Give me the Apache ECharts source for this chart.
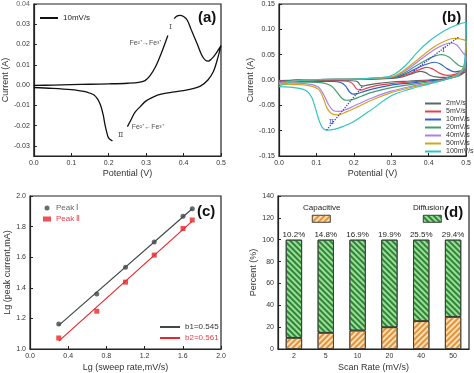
<!DOCTYPE html>
<html><head><meta charset="utf-8">
<script src="https://cdn.jsdelivr.net/npm/echarts@6/dist/echarts.min.js"></script>
<style>html,body{margin:0;padding:0;background:#fff}#c{width:474px;height:373px}</style>
</head><body><div id="c"></div>
<script>
// ---------- Panel (a): CV at 10 mV/s (current in A), split where annotations sit ----------
const cvA_seg1 = [[0.0,-0.0002],[0.05,0.0],[0.1,0.0002],[0.15,0.0004],[0.2,0.0006],[0.25,0.0009],[0.28,0.0013],[0.297,0.0022],[0.31,0.0045],[0.325,0.009],[0.34,0.0155],[0.358,0.0245]];
const cvA_seg2 = [[0.375,0.0328],[0.382,0.034],[0.39,0.0344],[0.4,0.0338],[0.41,0.032],[0.42,0.0275],[0.436,0.0205],[0.448,0.015],[0.458,0.0123],[0.466,0.0118],[0.474,0.0128],[0.485,0.0152],[0.5,0.0195],[0.49,0.0125],[0.48,0.0068],[0.465,0.0025],[0.445,-0.0005],[0.42,-0.002],[0.4,-0.0027],[0.37,-0.0035],[0.34,-0.0045],[0.32,-0.0058],[0.3,-0.0078],[0.285,-0.0105],[0.27,-0.0135],[0.26,-0.017],[0.25,-0.0205]];
const cvA_seg3 = [[0.21,-0.0275],[0.2,-0.0262],[0.195,-0.0235],[0.19,-0.0195],[0.185,-0.0145],[0.178,-0.0098],[0.17,-0.0068],[0.16,-0.0048],[0.14,-0.0034],[0.12,-0.0027],[0.1,-0.0022],[0.05,-0.0016],[0.0,-0.0012]];
const yTicksA = [-0.03,-0.02,-0.01,0.0,0.01,0.02,0.03,0.04];

// ---------- Panel (b): CV loops at several scan rates ----------
const scanNamesB = ['2mV/s','5mV/s','10mV/s ','20mV/s','40mV/s','50mV/s','100mV/s'];
const cv2 = [[0,-0.001],[0.05,0],[0.1,0],[0.2,0.001],[0.3,0.003],[0.33,0.006],[0.35,0.011],[0.365,0.015],[0.378,0.017],[0.39,0.015],[0.405,0.009],[0.42,0.006],[0.44,0.005],[0.46,0.007],[0.48,0.011],[0.5,0.017],
  [0.48,0.008],[0.45,0.003],[0.4,0.0],[0.35,-0.002],[0.3,-0.004],[0.26,-0.007],[0.235,-0.01],[0.225,-0.012],[0.218,-0.011],[0.212,-0.005],[0.205,-0.002],[0.18,-0.001],[0.1,-0.001],[0,-0.001]];
const cv5 = [[0,-0.002],[0.05,0],[0.1,0.001],[0.2,0.001],[0.3,0.004],[0.33,0.008],[0.36,0.016],[0.38,0.022],[0.395,0.025],[0.41,0.022],[0.43,0.013],[0.45,0.009],[0.47,0.011],[0.49,0.017],[0.5,0.022],
  [0.48,0.01],[0.45,0.003],[0.4,-0.001],[0.35,-0.004],[0.3,-0.007],[0.26,-0.011],[0.235,-0.016],[0.218,-0.02],[0.208,-0.018],[0.2,-0.01],[0.19,-0.004],[0.17,-0.002],[0.1,-0.002],[0,-0.002]];
const cv10 = [[0,-0.003],[0.05,0],[0.1,0.001],[0.2,0.002],[0.3,0.004],[0.33,0.01],[0.36,0.02],[0.39,0.03],[0.415,0.035],[0.43,0.032],[0.45,0.022],[0.47,0.016],[0.49,0.019],[0.5,0.024],
  [0.48,0.012],[0.45,0.003],[0.4,-0.002],[0.35,-0.006],[0.3,-0.01],[0.26,-0.016],[0.23,-0.022],[0.21,-0.027],[0.198,-0.028],[0.188,-0.023],[0.178,-0.012],[0.165,-0.005],[0.14,-0.003],[0.1,-0.003],[0,-0.003]];
const cv20 = [[0,-0.004],[0.05,0],[0.1,0.001],[0.2,0.002],[0.3,0.005],[0.33,0.012],[0.36,0.025],[0.39,0.038],[0.415,0.047],[0.435,0.05],[0.455,0.045],[0.47,0.035],[0.485,0.027],[0.5,0.025],
  [0.48,0.012],[0.45,0.002],[0.4,-0.004],[0.35,-0.009],[0.3,-0.015],[0.25,-0.024],[0.22,-0.032],[0.195,-0.039],[0.18,-0.04],[0.168,-0.036],[0.155,-0.024],[0.14,-0.012],[0.12,-0.006],[0.08,-0.004],[0,-0.004]];
const cv40 = [[0,-0.006],[0.05,-0.001],[0.1,0.001],[0.2,0.002],[0.3,0.006],[0.33,0.015],[0.36,0.03],[0.39,0.047],[0.42,0.062],[0.445,0.071],[0.46,0.073],[0.475,0.069],[0.49,0.055],[0.5,0.045],
  [0.495,0.025],[0.48,0.012],[0.45,0.002],[0.4,-0.006],[0.35,-0.013],[0.3,-0.022],[0.25,-0.035],[0.21,-0.048],[0.18,-0.058],[0.16,-0.062],[0.145,-0.06],[0.132,-0.048],[0.12,-0.03],[0.105,-0.014],[0.08,-0.008],[0.04,-0.006],[0,-0.006]];
const cv50 = [[0,-0.008],[0.05,-0.001],[0.1,0.001],[0.2,0.002],[0.3,0.006],[0.33,0.017],[0.36,0.034],[0.39,0.052],[0.42,0.068],[0.45,0.079],[0.47,0.082],[0.485,0.081],[0.5,0.076],
  [0.495,0.03],[0.48,0.013],[0.45,0.002],[0.4,-0.007],[0.35,-0.015],[0.3,-0.025],[0.25,-0.039],[0.21,-0.053],[0.18,-0.063],[0.157,-0.069],[0.14,-0.066],[0.128,-0.055],[0.118,-0.035],[0.105,-0.018],[0.08,-0.011],[0.04,-0.009],[0,-0.008]];
const cv100 = [[0,-0.013],[0.03,-0.004],[0.08,0],[0.2,0.002],[0.28,0.005],[0.31,0.012],[0.34,0.03],[0.37,0.055],[0.4,0.076],[0.43,0.092],[0.46,0.104],[0.48,0.11],[0.5,0.114],
  [0.495,0.03],[0.48,0.01],[0.45,0.002],[0.4,-0.008],[0.35,-0.018],[0.3,-0.031],[0.25,-0.057],[0.2,-0.082],[0.17,-0.092],[0.15,-0.097],[0.127,-0.099],[0.115,-0.093],[0.105,-0.075],[0.097,-0.055],[0.088,-0.035],[0.075,-0.022],[0.05,-0.016],[0,-0.013]];
const peakLineI = [[0.36,0.018],[0.48,0.085]];
const peakLineII = [[0.127,-0.099],[0.223,-0.013]];

// ---------- Panel (c): log peak current vs log sweep rate ----------
const lgRate = [0.301,0.699,1.0,1.301,1.602,1.699];
const lgPeakI = [1.164,1.360,1.535,1.699,1.867,1.917];
const lgPeakII = [1.072,1.247,1.437,1.614,1.788,1.843];
const slopeI = 0.545, slopeII = 0.561;

// ---------- Panel (d): capacitive / diffusion contribution ----------
const scanRatesD = ['2','5','10','20','40','50'];
const capacitive = [10.2,14.8,16.9,19.9,25.5,29.4];
const diffusion = [89.8,85.2,83.1,80.1,74.5,70.6];

const F = '"Liberation Sans", Arial, sans-serif';
const SERIF = '"DejaVu Serif", "Liberation Serif", serif';
const AX = '#222';
const colorsB = ['#5a6767','#e8404a','#2f62c4','#3fa06b','#b07ef0','#d4a520','#2fc5c0'];

function fitLine(xs, ys, b){
  const mx = xs.reduce((a,c)=>a+c,0)/xs.length, my = ys.reduce((a,c)=>a+c,0)/ys.length;
  const a0 = my - b*mx;
  return [[xs[0], a0 + b*xs[0]], [xs[xs.length-1], a0 + b*xs[xs.length-1]]];
}
function axis(o){
  return Object.assign({
    axisLine:{show:true,onZero:false,lineStyle:{color:AX,width:1.2}},
    axisTick:{show:true,inside:true,length:3,lineStyle:{color:AX,width:1}},
    axisLabel:{fontSize:7,color:'#333',margin:4,fontFamily:F},
    splitLine:{show:false},
    nameLocation:'middle',
    nameTextStyle:{fontSize:9,color:'#333',fontFamily:F}
  }, o);
}
const lab = (f) => ({fontSize:7,color:'#333',margin:4,fontFamily:F,formatter:f,showMinLabel:true,showMaxLabel:true});
const fmt = d => v => v.toFixed(d);
const gridBase = {show:true,borderColor:AX,borderWidth:1.2,containLabel:false};

const seriesB = [cv2,cv5,cv10,cv20,cv40,cv50,cv100].map((d,i)=>({
  name:scanNamesB[i], type:'line', xAxisIndex:1, yAxisIndex:1, data:d, smooth:0.35,
  showSymbol:false, symbol:'none', lineStyle:{width:1.2,color:colorsB[i]}, itemStyle:{color:colorsB[i]}, z:2+i
}));
seriesB.reverse();

const annot = (xi, items, extra, more) => Object.assign({
  type:'scatter', xAxisIndex:xi, yAxisIndex:xi, symbolSize:0, silent:true, z:20,
  data: items.map(t=>({value:[t[0],t[1]], name:t[2]})),
  label:Object.assign({show:true,position:'inside',formatter:p=>p.name,fontSize:7,color:'#222',fontFamily:F}, extra||{})
}, more||{});
const topA = yTicksA[yTicksA.length-1];

const option = {
  backgroundColor:'#fff',
  animation:false,
  title:[
    {text:'(a)',left:193,top:5,textStyle:{fontSize:15,fontWeight:'bold',color:'#111',fontFamily:F}},
    {text:'(b)',left:437,top:5,textStyle:{fontSize:15,fontWeight:'bold',color:'#111',fontFamily:F}},
    {text:'(c)',left:192,top:199,textStyle:{fontSize:15,fontWeight:'bold',color:'#111',fontFamily:F}},
    {text:'(d)',left:439,top:200,textStyle:{fontSize:15,fontWeight:'bold',color:'#111',fontFamily:F}},
    {text:'Capacitive',left:298,top:199,textStyle:{fontSize:8,fontWeight:'normal',color:'#222',fontFamily:F}},
    {text:'Diffusion',left:408,top:199,textStyle:{fontSize:8,fontWeight:'normal',color:'#222',fontFamily:F}}
  ],
  grid:[
    Object.assign({left:30,top:4,width:191,height:152},gridBase),
    Object.assign({left:279,top:4,width:189,height:152},gridBase),
    Object.assign({left:30,top:196,width:191,height:153},gridBase),
    Object.assign({left:278,top:196,width:191,height:153},gridBase)
  ],
  legend:[
    {data:['10mV/s'],left:35,top:9,orient:'vertical',itemWidth:18,itemHeight:2,icon:'rect',
      textStyle:{fontSize:8,color:'#222',fontFamily:F},itemGap:2},
    {data:scanNamesB,left:420,top:95,orient:'vertical',itemWidth:16,itemHeight:2,icon:'rect',itemGap:1,
      textStyle:{fontSize:7,color:'#333',fontFamily:F}},
    {data:[{name:'Peak Ⅰ',textStyle:{color:'#666'}},{name:'Peak Ⅱ',textStyle:{color:'#e8404a'}}],
      left:38,top:199,orient:'vertical',itemWidth:8,itemHeight:5,itemGap:3,
      textStyle:{fontSize:8,fontFamily:F}},
    {data:[{name:'b1=0.545',textStyle:{color:'#333'}},{name:'b2=0.561',textStyle:{color:'#e8404a'}}],
      left:155,top:318,orient:'vertical',itemWidth:20,itemHeight:2,icon:'rect',itemGap:3,
      textStyle:{fontSize:8,fontFamily:F}},
    {data:['Capacitive'],left:307,top:210,itemWidth:18,itemHeight:7,icon:'rect',formatter:()=>'',selectedMode:false,
      itemStyle:{borderColor:'#333',borderWidth:0.6}},
    {data:['Diffusion'],left:418,top:210,itemWidth:18,itemHeight:7,icon:'rect',formatter:()=>'',selectedMode:false,
      itemStyle:{borderColor:'#333',borderWidth:0.6}}
  ],
  xAxis:[
    axis({gridIndex:0,type:'value',min:0,max:0.5,interval:0.1,name:'Potential (V)',nameGap:13,axisLabel:lab(fmt(1))}),
    axis({gridIndex:1,type:'value',min:0,max:0.5,interval:0.1,name:'Potential (V)',nameGap:13,axisLabel:lab(fmt(1))}),
    axis({gridIndex:2,type:'value',min:0,max:2,interval:0.4,name:'Lg (sweep rate,mV/s)',nameGap:14,axisLabel:lab(fmt(1))}),
    axis({gridIndex:3,type:'category',data:scanRatesD,name:'Scan Rate (mV/s)',nameGap:14,
      axisTick:{show:true,inside:true,length:3,alignWithLabel:true,lineStyle:{color:AX}}})
  ],
  yAxis:[
    axis({gridIndex:0,type:'value',min:-0.035,max:0.04,name:'Current (A)',nameGap:20,
      axisTick:{show:true,inside:true,length:3,lineStyle:{color:AX,width:1},customValues:yTicksA},
      axisLabel:Object.assign(lab(fmt(2)),{customValues:yTicksA.slice(0,-1)})}),
    axis({gridIndex:1,type:'value',min:-0.15,max:0.15,interval:0.05,name:'Current (A)',nameGap:23,axisLabel:lab(fmt(2))}),
    axis({gridIndex:2,type:'value',min:1.0,max:2.0,interval:0.2,name:'Lg (peak current,mA)',nameGap:17,axisLabel:lab(fmt(1))}),
    axis({gridIndex:3,type:'value',min:0,max:140,interval:20,name:'Percent (%)',nameGap:15,axisLabel:lab(v=>String(v))})
  ],
  series:[
    ...[cvA_seg1,cvA_seg2,cvA_seg3].map(d=>({name:'10mV/s',type:'line',xAxisIndex:0,yAxisIndex:0,data:d,smooth:0.35,
      showSymbol:false,symbol:'none',lineStyle:{width:1.3,color:'#111'},itemStyle:{color:'#111'}})),
    // top tick label of panel (a), pinned to the axis value 0.04, drawn on its own layer
    annot(0,[[0,topA,topA.toFixed(2)]],{position:'left',distance:4,fontSize:7,color:'#333'},
      {zlevel:1,z:50,clip:false,labelLayout:{hideOverlap:false}}),
    annot(0,[[0.365,0.0285,'Ⅰ'],[0.232,-0.0248,'Ⅱ']],{fontSize:8,fontFamily:SERIF,color:'#333'}),
    annot(0,[[0.298,0.0205,'Fe²⁺→Fe³⁺'],[0.304,-0.0205,'Fe²⁺←Fe³⁺']],{fontSize:7}),
    ...seriesB,
    {name:'peakI',type:'line',xAxisIndex:1,yAxisIndex:1,data:peakLineI,showSymbol:false,symbol:'none',
      lineStyle:{type:'dotted',width:1.3,color:'#3a3ad0'},z:20},
    {name:'peakII',type:'line',xAxisIndex:1,yAxisIndex:1,data:peakLineII,showSymbol:false,symbol:'none',
      lineStyle:{type:'dotted',width:1.3,color:'#3a3ad0'},z:20},
    annot(1,[[0.44,0.059,'Ⅰ'],[0.14,-0.083,'Ⅱ']],{fontSize:8,fontFamily:SERIF,color:'#3a3ad0'}),
    {name:'b1=0.545',type:'line',xAxisIndex:2,yAxisIndex:2,data:fitLine(lgRate,lgPeakI,slopeI),showSymbol:false,symbol:'none',
      lineStyle:{width:1.2,color:'#404848'},itemStyle:{color:'#404848'}},
    {name:'b2=0.561',type:'line',xAxisIndex:2,yAxisIndex:2,data:fitLine(lgRate,lgPeakII,slopeII),showSymbol:false,symbol:'none',
      lineStyle:{width:1.2,color:'#e8262c'},itemStyle:{color:'#e8262c'}},
    {name:'Peak Ⅰ',type:'scatter',xAxisIndex:2,yAxisIndex:2,data:lgRate.map((x,i)=>[x,lgPeakI[i]]),symbol:'circle',symbolSize:5,
      itemStyle:{color:'#404848'},z:5},
    {name:'Peak Ⅱ',type:'scatter',xAxisIndex:2,yAxisIndex:2,data:lgRate.map((x,i)=>[x,lgPeakII[i]]),symbol:'rect',symbolSize:5,
      itemStyle:{color:'#e8262c'},z:5},
    {name:'Capacitive',type:'bar',xAxisIndex:3,yAxisIndex:3,stack:'p',data:capacitive,barWidth:'51%',
      itemStyle:{color:'#fbe0b6',borderColor:'#333',borderWidth:0.8,
        decal:{symbol:'rect',symbolSize:1,color:'#e0933a',dashArrayX:[1,0],dashArrayY:[1.4,1.6],rotation:-Math.PI/4}}},
    {name:'Diffusion',type:'bar',xAxisIndex:3,yAxisIndex:3,stack:'p',data:diffusion,barWidth:'51%',
      itemStyle:{color:'#9fdc96',borderColor:'#333',borderWidth:0.8,
        decal:{symbol:'rect',symbolSize:1,color:'#2a873a',dashArrayX:[1,0],dashArrayY:[1.4,1.6],rotation:Math.PI/4}},
      label:{show:true,position:'top',distance:1,fontSize:8,color:'#222',fontFamily:F,formatter:p=>capacitive[p.dataIndex].toFixed(1)+'%'}}
  ]
};
const chart = echarts.init(document.getElementById('c'),null,{renderer:'canvas'});
chart.setOption(option);
</script></body></html>
